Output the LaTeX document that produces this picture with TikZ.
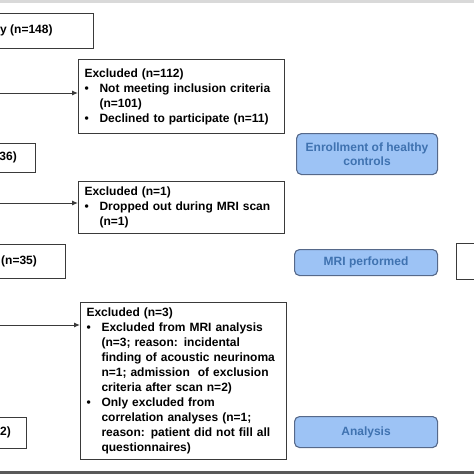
\documentclass[tikz,border=0pt]{standalone}
\usepackage{fontspec}
\setmainfont{Liberation Sans}
\usetikzlibrary{arrows.meta, positioning}
\definecolor{boxblue}{HTML}{9DC3F5}
\definecolor{boxedge}{HTML}{56698A}
\definecolor{bluetext}{HTML}{3F72B0}
\definecolor{linegray}{HTML}{3A3A3A}
\tikzset{
  flowbox/.style={draw=linegray, line width=1.1pt, fill=white, inner sep=0pt},
  flowtext/.style={font=\bfseries\fontsize{12}{15}\selectfont, inner sep=0pt}
}
\tikzset{
  exclbox/.style={draw=linegray, line width=1.1pt, fill=white, anchor=north west,
    align=left, text width=194pt, inner xsep=6pt, inner ysep=0pt,
    font=\bfseries\fontsize{12}{15}\selectfont},
  stagebox/.style={draw=boxedge, line width=1.1pt, fill=boxblue, rounded corners=5pt,
    text=bluetext, align=center, anchor=north west, inner sep=0pt,
    font=\bfseries\fontsize{12}{14}\selectfont},
  arr/.style={draw=linegray, line width=1pt, -{Latex[length=6pt,width=5pt]}}
}
\newcommand{\bul}{\makebox[15pt][l]{\textbullet}}
\newcommand{\hang}{\hspace*{15pt}}

\begin{document}
\begin{tikzpicture}[x=1pt,y=-1pt]
  \useasboundingbox (0,0) rectangle (474,474);
  \clip (0,0) rectangle (474,474);
  % frame bands of the cropped figure
  \fill[gray!30] (0,0) rectangle (474,2.5);
  \fill[black!65] (0,471) rectangle (474,474);

  % left column, cut at the border
  \node[flowbox, anchor=north east, minimum width=120pt, minimum height=35pt] (assess) at (94,13) {};
  \node[flowtext, anchor=west] (assesstxt) at (0,30.5) {y (n=148)};
  \node[flowbox, anchor=north east, minimum width=60pt, minimum height=29pt] (enrol) at (36,143) {};
  \node[flowtext, anchor=east] (enroltxt) at (17,157.5) {36)};
  \node[flowbox, anchor=north east, minimum width=90pt, minimum height=34pt] (mri) at (66,244) {};
  \node[flowtext, anchor=west] (mritxt) at (1,261) {(n=35)};
  \node[flowbox, anchor=north east, minimum width=50pt, minimum height=31pt] (anal) at (27,417) {};
  \node[flowtext, anchor=east] (analtxt) at (11,432.5) {2)};

  % exclusions
  \node[exclbox, minimum height=74pt] (ex1) at (78,59) {Excluded (n=112)\\
    \bul Not meeting inclusion criteria\\
    \hang (n=101)\\
    \bul Declined to participate (n=11)};
  \node[exclbox, minimum height=52pt] (ex2) at (78,181) {Excluded (n=1)\\
    \bul Dropped out during MRI scan\\
    \hang (n=1)};
  \node[exclbox, minimum height=157pt] (ex3) at (80,302) {Excluded (n=3)\\
    \bul Excluded from MRI analysis\\
    \hang (n=3; reason: incidental\\
    \hang finding of acoustic neurinoma\\
    \hang n=1; admission\ \ of exclusion\\
    \hang criteria after scan n=2)\\
    \bul Only excluded from\\
    \hang correlation analyses (n=1;\\
    \hang reason: patient did not fill all\\
    \hang questionnaires)};

  \foreach \y/\b in {93/ex1, 203/ex2, 325/ex3} {
    \coordinate (s\b) at (-5,\y);
    \draw[arr] (s\b) -- (s\b -| \b.west);
  }

  % stages
  \node[stagebox, minimum width=141pt, minimum height=41pt] (stenrol) at (296,133) {Enrollment of healthy\\controls};
  \node[stagebox, minimum width=143pt, minimum height=26pt] (stmri) at (294,249) {MRI performed};
  \node[stagebox, minimum width=143pt, minimum height=31pt] (stanal) at (294,416) {Analysis};

  % right column, cut at the border
  \node[flowbox, anchor=north west, minimum width=40pt, minimum height=36pt] (ctrl) at (456,243) {};
\end{tikzpicture}
\end{document}
